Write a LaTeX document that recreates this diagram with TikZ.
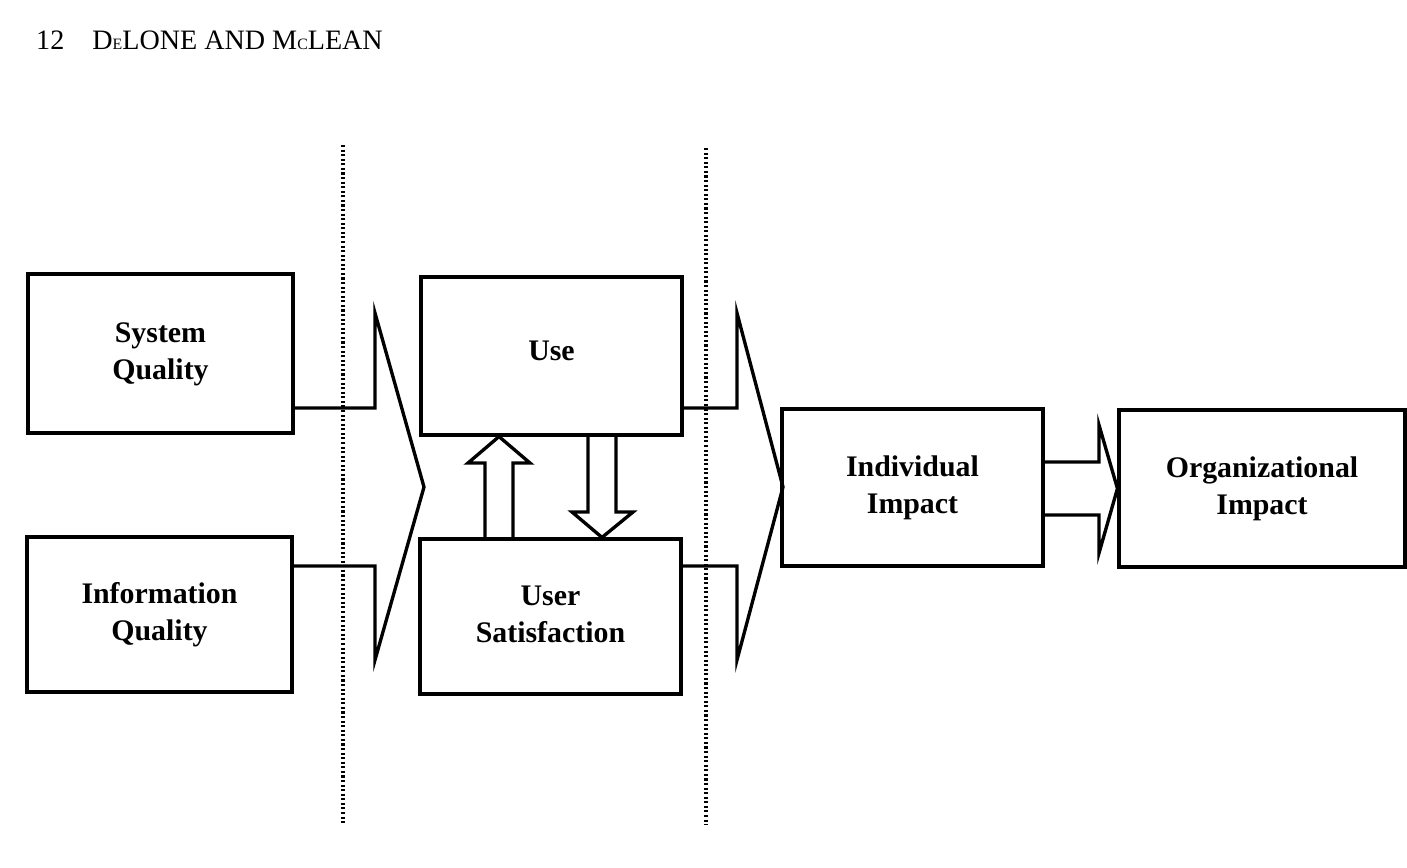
\documentclass[tikz,border=0pt]{standalone}
\usepackage{fontspec}
\setmainfont{Liberation Serif}
\newcommand\twoline[2]{\raisebox{-0.3cm}{\begin{tabular}{@{}c@{}}#1\\#2\end{tabular}}}
\begin{document}
\begin{tikzpicture}[x=0.02cm,y=-0.02cm,line join=miter]
\tikzset{box/.style={draw,line width=1.8pt,inner sep=0pt,font=\bfseries\fontsize{17}{21}\selectfont,align=center},
  dots/.style={line width=2.8pt,dash pattern=on 1.2pt off 1.4pt},
  chev/.style={draw,line width=1.9pt}}
\useasboundingbox (0,0) rectangle (1407,867);
\node[anchor=west,font=\fontsize{16}{18}\selectfont] (hd) at (30,40) {12\hspace{1em}D{\small E}LONE AND M{\small C}LEAN};
% boxes
\node[box,minimum width=5.3cm,minimum height=3.18cm] (sq) at (160.5,353.5) {\twoline{System}{Quality}};
\node[box,minimum width=5.3cm,minimum height=3.1cm] (iq) at (159.5,614.5) {\twoline{Information}{Quality}};
\node[box,minimum width=5.22cm,minimum height=3.16cm] (use) at (551.5,356) {\raisebox{0.2cm}{Use}};
\node[box,minimum width=5.22cm,minimum height=3.1cm] (us) at (550.5,616.5) {\twoline{User}{Satisfaction}};
\node[box,minimum width=5.22cm,minimum height=3.14cm] (ii) at (912.5,487.5) {\twoline{Individual}{Impact}};
\node[box,minimum width=5.72cm,minimum height=3.14cm] (oi) at (1262,488.5) {\twoline{Organizational}{Impact}};
% dotted separators
\draw[dots] (343,145) -- (343,825);
\draw[dots] (706,148) -- (706,825);
% chevron arrows
\draw[chev] (sq.east |- 0,408) -- (375,408) -- (375,313) -- (424,487) -- (375,660) -- (375,566) -- (iq.east |- 0,566);
\draw[chev] (use.east |- 0,408) -- (737,408) -- (737,313) -- (783,487) -- (737,660) -- (737,566) -- (us.east |- 0,566);
\draw[chev] (ii.east |- 0,462) -- (1099,462) -- (1099,425) -- (oi.west) -- (1099,553) -- (1099,515) -- (ii.east |- 0,515);
% hollow arrows
\draw[chev] (us.north -| 485,0) -- (485,463) -- (468,463) -- (use.south -| 499,0) -- (530,463) -- (513,463) -- (us.north -| 513,0);
\draw[chev] (use.south -| 588,0) -- (588,512) -- (572,512) -- (us.north -| 602,0) -- (633,512) -- (616,512) -- (use.south -| 616,0);
\end{tikzpicture}
\end{document}
